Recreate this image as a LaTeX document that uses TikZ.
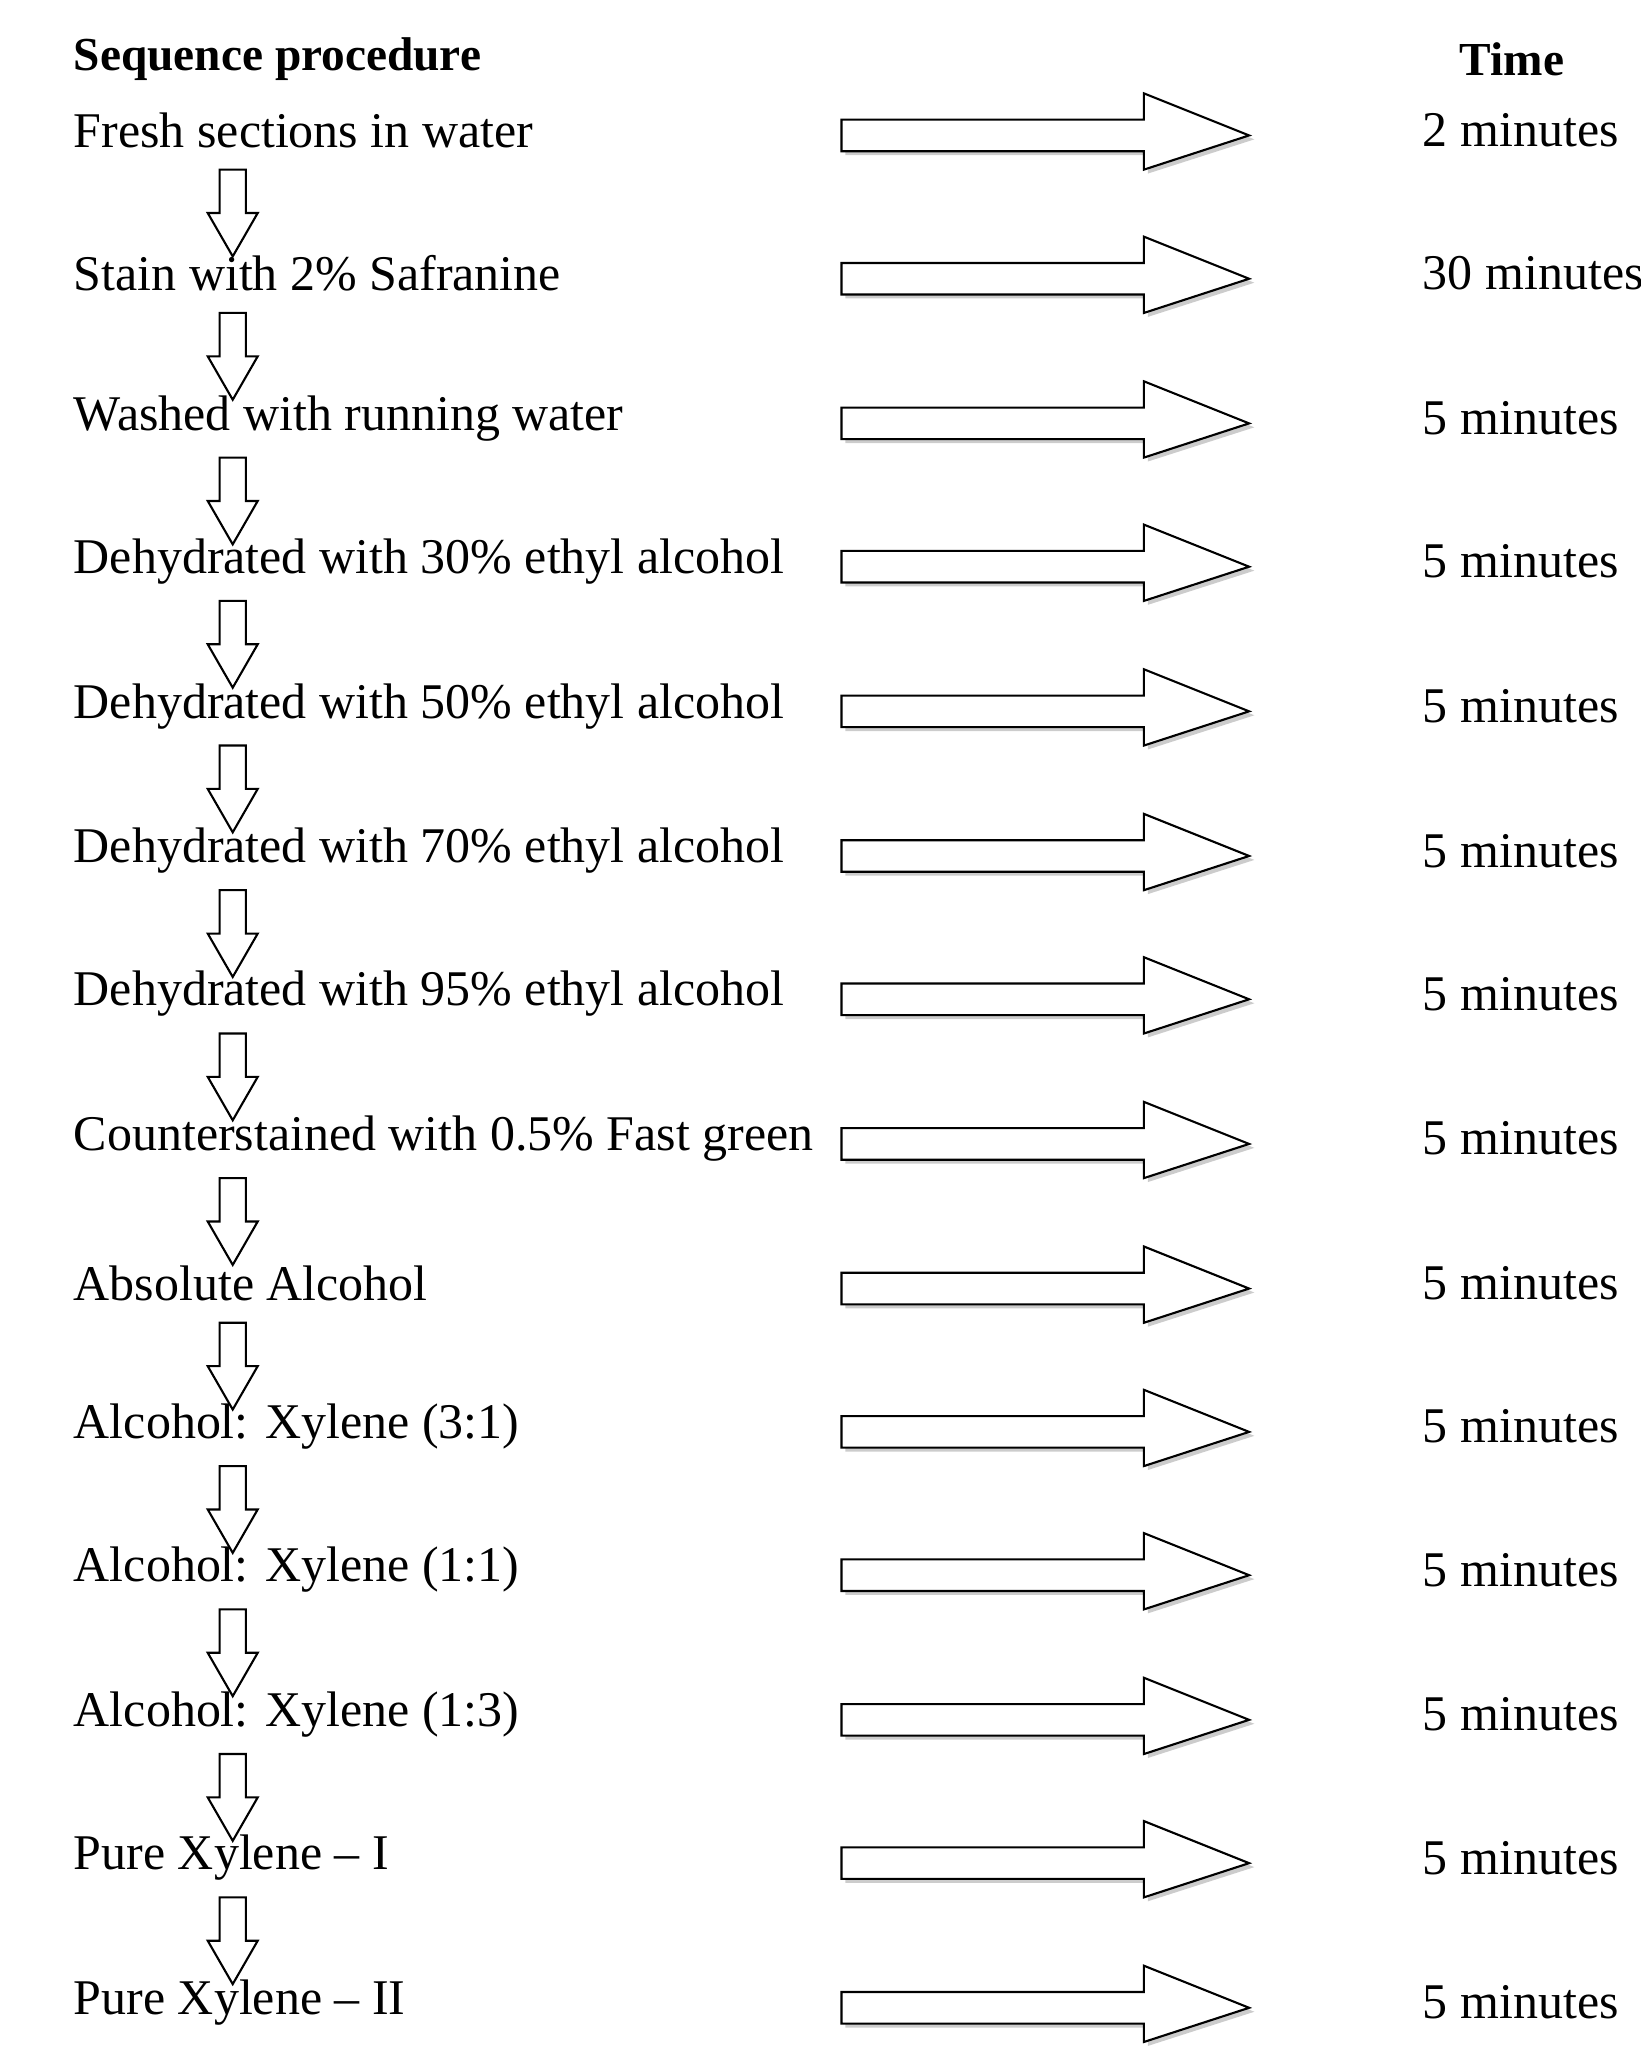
\documentclass[tikz,border=0pt]{standalone}
\usepackage{fontspec}
\setmainfont{Liberation Serif}
\begin{document}
\begin{tikzpicture}[x=1pt,y=-1pt,
  lbl/.style={anchor=west,inner sep=0pt,font=\fontsize{38}{44}\selectfont},
  hdr/.style={anchor=west,inner sep=0pt,font=\fontsize{36}{42}\selectfont\bfseries},
  arr/.style={draw=black,line width=1.6pt,fill=white,line join=miter}]
\useasboundingbox (0,0) rectangle (1248,1569);
\node[hdr] (h1) at (56,45) {Sequence procedure};
\node[hdr] (h2) at (1110,45) {Time};
\foreach \y/\t/\m [count=\i] in {97/Fresh sections in water/2 minutes,
 206/Stain with 2\% Safranine/30 minutes,
 316/Washed with running water/5 minutes,
 425/Dehydrated with 30\% ethyl alcohol/5 minutes,
 535/Dehydrated with 50\% ethyl alcohol/5 minutes,
 645/Dehydrated with 70\% ethyl alcohol/5 minutes,
 754/Dehydrated with 95\% ethyl alcohol/5 minutes,
 864/Counterstained with 0.5\% Fast green/5 minutes,
 974/Absolute Alcohol/5 minutes,
 1083/{Alcohol: Xylene (3:1)}/5 minutes,
 1192/{Alcohol: Xylene (1:1)}/5 minutes,
 1302/{Alcohol: Xylene (1:3)}/5 minutes,
 1411/Pure Xylene -- I/5 minutes,
 1521/Pure Xylene -- II/5 minutes}{
  \node[lbl] (s\i) at (56,\y+2) {\t};
  \node[lbl] (t\i) at (1082,\y+2) {\m};
  \fill[gray!40] (643,\y-3) -- (873,\y-3) -- (873,\y-23) -- (954,\y+9) -- (873,\y+35) -- (873,\y+21) -- (643,\y+21) -- cycle;
  \draw[arr] (640,\y-6) -- (870,\y-6) -- (870,\y-26) -- (950,\y+6) -- (870,\y+32) -- (870,\y+18) -- (640,\y+18) -- cycle;
}
\foreach \a/\b in {97/206,206/316,316/425,425/535,535/645,645/754,754/864,864/974,974/1083,1083/1192,1192/1302,1302/1411,1411/1521}{
  \draw[arr] (167,\a+32) -- (187,\a+32) -- (187,\a+65) -- (196,\a+65) -- (177,\a+98) -- (158,\a+65) -- (167,\a+65) -- cycle;
}
\end{tikzpicture}
\end{document}
